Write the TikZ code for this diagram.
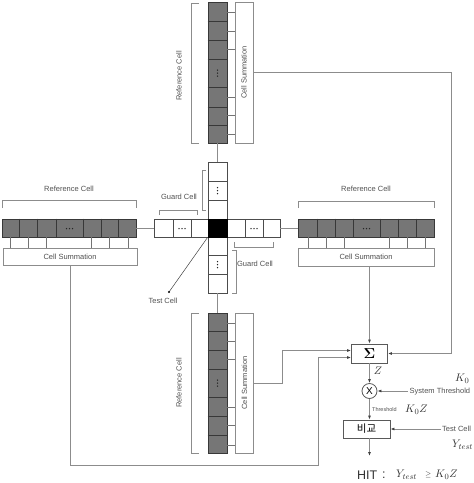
\documentclass[tikz,border=0pt]{standalone}
\usepackage[no-math]{fontspec}
\setmainfont{Liberation Sans}
\newfontfamily\krfont{Noto Sans CJK KR}
\usetikzlibrary{arrows.meta}
\definecolor{cellgray}{HTML}{767676}
\definecolor{celledge}{HTML}{383838}
\definecolor{linegray}{HTML}{8C8C8C}
\definecolor{txtgray}{HTML}{505050}
\begin{document}
\begin{tikzpicture}[x=1pt,y=-1pt,
  refcol/.style={draw=celledge, fill=cellgray, line width=0.8pt, inner sep=0pt},
  sepline/.style={draw=celledge, line width=0.8pt},
  sumbox/.style={draw=linegray, fill=white, line width=0.8pt, inner sep=0pt},
  guardcell/.style={draw=black!70, fill=white, line width=0.8pt, inner sep=0pt},
  tickline/.style={draw=black!55, line width=0.6pt},
  brk/.style={draw=linegray, line width=0.8pt},
  conn/.style={draw=linegray, line width=0.8pt},
  arr/.style={conn, -{Latex[length=4pt,width=3pt,color=black!75]}},
  lbl/.style={text=txtgray, font=\fontsize{7.5}{9}\selectfont, inner sep=1pt},
  smlbl/.style={text=txtgray, font=\fontsize{5.5}{7}\selectfont, inner sep=1pt},
  mathlbl/.style={text=black!80, font=\fontsize{11}{12}\selectfont, inner sep=1pt},
  opbox/.style={draw=black!65, fill=white, line width=0.8pt, inner sep=0pt},
  dotc/.style={fill=black!85}
]
\useasboundingbox (0,0) rectangle (474,483);

% ---------- top reference column ----------
\node[refcol, minimum width=19pt, minimum height=141pt] (topcol) at (217.5,72.5) {};
\foreach \y in {21,40,59,87,107,125} \draw[sepline] (topcol.west |- 0,\y) -- (topcol.east |- 0,\y);
\node[sumbox, minimum width=18pt, minimum height=141pt] (topsum) at (244,72.5) {};
\node[lbl, rotate=90] (topsumlbl) at (topsum.center) {Cell Summation};
\foreach \y in {12,31,49,97,115,134} \draw[tickline] (topcol.east |- 0,\y) -- (topsum.west |- 0,\y);
\foreach \d in {-3,0,3} \fill[dotc] (217.5,73+\d) circle (0.75);
\draw[brk] (199,3) -- (191,3) -- (191,143) -- (199,143);
\node[lbl, rotate=90] (topreflbl) at (179,76) {Reference Cell};

% ---------- bottom reference column ----------
\node[refcol, minimum width=19pt, minimum height=140pt] (botcol) at (217.5,383) {};
\foreach \y in {331,350,369,397,416,435} \draw[sepline] (botcol.west |- 0,\y) -- (botcol.east |- 0,\y);
\node[sumbox, minimum width=18pt, minimum height=140pt] (botsum) at (244.5,383) {};
\node[lbl, rotate=90] (botsumlbl) at (botsum.center) {Cell Summation};
\foreach \y in {323,341,359,407,425,445} \draw[tickline] (botcol.east |- 0,\y) -- (botsum.west |- 0,\y);
\foreach \d in {-3,0,3} \fill[dotc] (217.5,383+\d) circle (0.75);
\draw[brk] (199,313) -- (191,313) -- (191,453) -- (199,453);
\node[lbl, rotate=90] (botreflbl) at (179,383) {Reference Cell};

% ---------- left reference row ----------
\node[refcol, minimum width=134pt, minimum height=18pt] (leftrow) at (69,228) {};
\foreach \x in {19,37,56,83,101,118} \draw[sepline] (\x,0 |- leftrow.north) -- (\x,0 |- leftrow.south);
\node[sumbox, minimum width=134pt, minimum height=17pt] (leftsum) at (70,256.5) {};
\node[lbl] (leftsumlbl) at (leftsum.center) {Cell Summation};
\foreach \x in {10,28,46,91,109,128} \draw[tickline] (\x,0 |- leftrow.south) -- (\x,0 |- leftsum.north);
\foreach \d in {-3,0,3} \fill[dotc] (69.5+\d,228.5) circle (0.75);
\draw[brk] (2,208) -- (2,200) -- (136,200) -- (136,208);
\node[lbl] (leftreflbl) at (69,189) {Reference Cell};

% ---------- right reference row ----------
\node[refcol, minimum width=136pt, minimum height=18pt] (rightrow) at (366,228) {};
\foreach \x in {317,335,353,380,398,416} \draw[sepline] (\x,0 |- rightrow.north) -- (\x,0 |- rightrow.south);
\node[sumbox, minimum width=136pt, minimum height=18pt] (rightsum) at (366,257) {};
\node[lbl] (rightsumlbl) at (rightsum.center) {Cell Summation};
\foreach \x in {308,326,344,389,407,425} \draw[tickline] (\x,0 |- rightrow.south) -- (\x,0 |- rightsum.north);
\foreach \d in {-3,0,3} \fill[dotc] (366.5+\d,228.5) circle (0.75);
\draw[brk] (298,208) -- (298,201) -- (434,201) -- (434,208);
\node[lbl] (rightreflbl) at (366,189) {Reference Cell};

% ---------- guard cells and test cell ----------
\foreach \a/\b [count=\i] in {162/181,181/200,200/219,237/255,255/274,274/293}
  \node[guardcell, minimum width=19pt, minimum height={(\b-\a)*1pt}] (gv\i) at (217.5,{(\a+\b)/2}) {};
\foreach \a/\b [count=\i] in {154/173,173/191,191/208,227/245,245/263,263/280}
  \node[guardcell, minimum width={(\b-\a)*1pt}, minimum height=18pt] (gh\i) at ({(\a+\b)/2},228) {};
\node[guardcell, fill=black, draw=black, minimum width=19pt, minimum height=18pt] (tc) at (217.5,228) {};
\foreach \d in {-3,0,3} {
  \fill[dotc] (217.5,190.5+\d) circle (0.75);
  \fill[dotc] (217.5,264.5+\d) circle (0.75);
  \fill[dotc] (182+\d,228.5) circle (0.75);
  \fill[dotc] (254+\d,228.5) circle (0.75);
}
% guard brackets
\draw[brk] (159,215) -- (159,210) -- (197,210) -- (197,215);
\draw[brk] (206,170) -- (202,170) -- (202,210) -- (206,210);
\draw[brk] (234,242) -- (234,247) -- (273,247) -- (273,242);
\draw[brk] (232,250) -- (236,250) -- (236,293) -- (232,293);
\node[lbl] (guardlbl1) at (179,197) {Guard Cell};
\node[lbl] (guardlbl2) at (255,264) {Guard Cell};
% test cell pointer
\coordinate (tcdot) at (169,292);
\draw[draw=black!75, line width=0.5pt] (tc.south west) -- (tcdot);
\fill[black] (tcdot) circle (1.2);
\node[lbl] (tclbl) at (163,301) {Test Cell};

% ref <-> guard connections
\draw[conn] (topcol.south) -- (gv1.north);
\draw[conn] (gv6.south) -- (botcol.north);
\draw[conn] (leftrow.east) -- (gh1.west);
\draw[conn] (gh6.east) -- (rightrow.west);

% ---------- processing chain ----------
\node[opbox, minimum width=36pt, minimum height=19pt] (sigma) at (369.5,353.5) {\fontsize{15}{15}\selectfont$\mathbf{\Sigma}$};
\node[circle, draw=black!65, fill=white, line width=0.8pt, minimum size=15pt, inner sep=0pt, font=\fontsize{10}{10}\selectfont] (mul) at (369.5,391) {X};
\node[opbox, minimum width=47pt, minimum height=18pt] (cmp) at (366.5,429) {\krfont\fontsize{10.5}{10.5}\selectfont 비교};

\coordinate (c1) at (451,72.5);
\draw[arr] (topsum.east) -- (c1) |- (sigma.east);
\draw[arr] (rightsum.south -| sigma.north) -- (sigma.north);
\coordinate (c2) at (282,383);
\draw[arr] (botsum.east) -- (c2) |- ([yshift=3pt]sigma.west);
\coordinate (c3) at (70,465);
\coordinate (c4) at (318,465);
\draw[arr] (leftsum.south) -- (c3) -- (c4) |- ([yshift=-4pt]sigma.west);

\draw[arr] (sigma.south) -- (mul.north);
\node[mathlbl] (zlbl) at (378,371) {$Z$};
\coordinate (st) at (408,391);
\draw[arr] (st) -- (mul.east);
\node[lbl, anchor=west] (stlbl) at (408.5,391.5) {System Threshold};
\node[mathlbl, anchor=west] (k0a) at (454,379) {$K_0$};

\draw[arr] (mul.south) -- (mul.south |- cmp.north);
\node[smlbl, anchor=west] (thlbl) at (371,410) {Threshold};
\node[mathlbl, anchor=west] (thk) at (404,410) {$K_0Z$};

\coordinate (tcin) at (441,429);
\draw[arr] (tcin) -- (cmp.east);
\node[lbl, anchor=west] (tclbl2) at (441,429) {Test Cell};
\node[mathlbl, anchor=west] (ytest) at (451,445) {$Y_{test}$};

\coordinate (hitc) at (369.5,456);
\draw[arr] (cmp.south -| hitc) -- (hitc);
\node[anchor=west, inner sep=1pt, text=black!80, font=\fontsize{12.5}{12.5}\selectfont] (hit) at (356,475) {HIT};
\node[anchor=west, inner sep=1pt, text=black!80, font=\fontsize{12.5}{12.5}\selectfont] (hitcolon) at (381,475) {:};
\node[mathlbl, anchor=west] (hity) at (395,475) {$Y_{test}$};
\node[mathlbl, anchor=west, font=\fontsize{7}{8}\selectfont] (hitge) at (424,475) {$\geq$};
\node[mathlbl, anchor=west] (hitk) at (434,475) {$K_0Z$};
\end{tikzpicture}
\end{document}
